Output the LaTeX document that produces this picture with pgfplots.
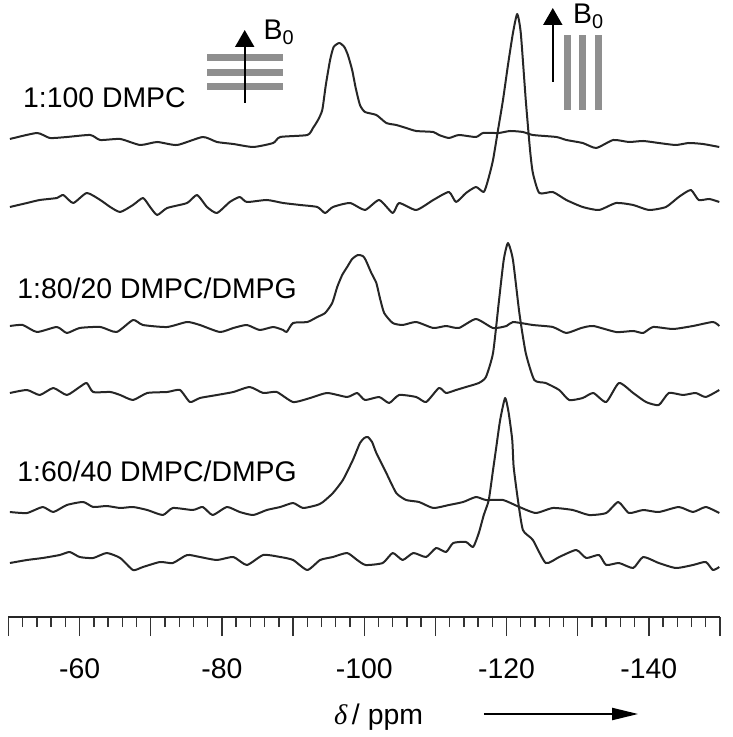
\documentclass[border=0pt]{standalone}
\usepackage{pgfplots}
\pgfplotsset{compat=1.18}
\usetikzlibrary{arrows.meta}
\usepackage{fontspec}
\setmainfont{Liberation Sans}
\newfontfamily\seriffont{Liberation Serif}
\newcommand\lbl{\fontsize{14.2}{17}\selectfont}
\definecolor{barcol}{gray}{0.56}

\begin{document}
\begin{tikzpicture}
\begin{axis}[
  scale only axis, width=355.75pt, height=308.5pt,
  x dir=reverse, xmin=-150, xmax=-50, ymin=120, ymax=737,
  axis y line=none, axis x line*=bottom,
  x axis line style={-, line width=1pt, black!85},
  xtick={-150,-140,...,-50},
  xticklabels={,-140,,-120,,-100,,-80,,-60,},
  minor x tick num=4,
  tick align=outside,
  major tick length=9.5pt, minor tick length=5pt,
  tick style={black!80, line width=0.7pt},
  xticklabel style={font=\lbl, yshift=-8pt},
  clip=false,
  trace/.style={black!85, line width=1pt, line join=round, mark=none, smooth, tension=0.35},
]
% trace 1
\addplot[trace] coordinates {(-50.2,598) (-54.0,604) (-55.8,599) (-58.2,600) (-61.5,602) (-62.9,597) (-65.7,598) (-68.5,592) (-70.9,595) (-73.7,592) (-77.3,600) (-79.3,595) (-81.6,593) (-84.4,590) (-87.2,594) (-88.2,600) (-92.0,602) (-92.8,609) (-93.5,617) (-94.1,627) (-94.6,652) (-95.2,677) (-95.7,690) (-96.5,694) (-97.2,690) (-97.7,682) (-98.3,667) (-98.8,649) (-99.4,632) (-100.1,625) (-101.7,622) (-103.1,614) (-104.5,612) (-105.9,609) (-107.3,606) (-109.7,605) (-110.5,602) (-111.9,599) (-113.3,602) (-115.7,600) (-116.7,604) (-118.9,604) (-120.5,606) (-122.3,605) (-123.7,602) (-127.0,600) (-128.4,597) (-130.7,594) (-132.6,589) (-135.0,597) (-137.2,595) (-139.2,596) (-141.4,594) (-143.8,592) (-145.6,594) (-147.6,593) (-149.9,590)};
% trace 2
\addplot[trace] coordinates {(-50.2,530) (-52.6,534) (-54.4,537) (-56.8,539) (-57.7,542) (-59.1,534) (-61.0,544) (-62.9,537) (-64.3,530) (-65.7,525) (-67.5,532) (-68.9,539) (-69.9,530) (-70.9,522) (-72.3,529) (-75.1,534) (-76.5,542) (-77.9,530) (-79.3,524) (-81.1,535) (-82.5,540) (-83.5,535) (-86.3,537) (-88.6,534) (-91.0,532) (-93.4,530) (-94.5,524) (-95.6,530) (-98.0,534) (-100.1,527) (-102.1,537) (-104.0,524) (-104.9,534) (-107.3,527) (-109.7,537) (-111.9,545) (-112.9,535) (-114.3,544) (-115.7,550) (-116.8,545) (-117.4,557) (-118.1,577) (-118.8,607) (-119.5,637) (-120.2,672) (-120.9,704) (-121.5,723) (-122.0,704) (-122.7,637) (-123.3,587) (-123.7,564) (-124.6,544) (-126.5,545) (-128.4,537) (-130.7,530) (-133.0,527) (-135.4,534) (-137.8,532) (-140.0,527) (-142.4,530) (-144.2,540) (-145.9,547) (-147.0,537) (-148.5,538) (-149.9,535)};
% trace 3
\addplot[trace] coordinates {(-50.2,411) (-52.0,412) (-54.0,405) (-56.8,410) (-58.2,404) (-60.0,409) (-62.9,410) (-65.2,405) (-67.5,417) (-68.9,412) (-72.3,410) (-75.1,415) (-76.9,412) (-79.7,405) (-81.6,409) (-83.5,412) (-85.3,407) (-87.2,410) (-88.6,407) (-89.1,405) (-90.0,414) (-92.0,415) (-93.4,420) (-94.5,424) (-95.5,434) (-96.2,450) (-96.9,462) (-97.6,470) (-98.3,478) (-99.1,482) (-99.8,481) (-100.2,477) (-101.0,464) (-101.7,454) (-102.2,439) (-102.8,424) (-104.0,414) (-105.4,412) (-107.3,415) (-109.7,409) (-111.5,411) (-113.3,409) (-115.7,418) (-118.1,409) (-120.0,411) (-120.9,415) (-123.7,412) (-126.5,410) (-128.4,404) (-130.5,409) (-132.2,411) (-135.4,405) (-137.8,406) (-139.2,404) (-140.6,410) (-143.4,408) (-146.2,411) (-149.0,415) (-149.9,411)};
% trace 4
\addplot[trace] coordinates {(-50.2,344) (-52.6,347) (-54.4,342) (-56.3,349) (-58.2,342) (-60.0,350) (-61.0,354) (-61.9,345) (-64.3,345) (-65.7,342) (-67.5,337) (-69.5,344) (-72.3,345) (-74.1,347) (-75.5,335) (-76.9,339) (-79.3,342) (-81.6,345) (-83.9,350) (-85.8,344) (-87.7,345) (-90.0,335) (-92.4,339) (-94.8,344) (-97.6,340) (-99.0,344) (-100.1,337) (-102.1,340) (-103.5,334) (-104.9,342) (-107.3,340) (-108.7,335) (-110.5,349) (-111.5,344) (-112.9,347) (-114.3,350) (-116.1,354) (-117.1,360) (-118.1,384) (-118.9,434) (-119.6,477) (-120.2,494) (-120.9,477) (-121.8,424) (-122.7,384) (-123.9,357) (-125.5,354) (-127.4,347) (-128.8,337) (-130.7,339) (-132.2,344) (-134.0,335) (-135.8,354) (-137.8,344) (-139.6,335) (-141.4,332) (-142.8,344) (-144.8,342) (-146.6,344) (-148.0,340) (-149.9,347)};
% trace 5
\addplot[trace] coordinates {(-50.2,225) (-52.6,224) (-54.8,230) (-56.3,225) (-58.2,232) (-60.5,235) (-61.9,230) (-63.8,231) (-65.7,229) (-67.5,230) (-69.5,227) (-71.7,222) (-73.1,229) (-75.9,227) (-77.3,230) (-78.7,222) (-80.7,230) (-82.5,225) (-84.4,222) (-86.3,227) (-88.2,230) (-90.0,234) (-91.4,229) (-93.4,232) (-94.2,235) (-95.6,244) (-97.0,257) (-98.4,277) (-99.4,294) (-100.0,299) (-100.5,300) (-101.1,295) (-101.7,284) (-103.1,264) (-104.5,244) (-105.9,237) (-107.7,235) (-109.7,229) (-111.9,232) (-113.9,235) (-115.7,240) (-117.1,237) (-119.5,237) (-121.8,230) (-124.1,224) (-126.5,229) (-129.3,227) (-131.6,222) (-134.0,224) (-135.7,235) (-137.2,224) (-139.2,227) (-141.4,225) (-144.2,230) (-146.2,225) (-148.0,230) (-149.9,224)};
% trace 6
\addplot[trace] coordinates {(-50.2,174) (-52.6,177) (-54.8,179) (-57.2,182) (-58.6,185) (-60.0,180) (-61.9,179) (-63.8,184) (-65.7,179) (-67.5,167) (-68.9,170) (-71.3,175) (-73.1,174) (-75.1,182) (-76.9,180) (-79.3,177) (-81.6,180) (-83.5,172) (-85.8,182) (-88.2,180) (-90.0,177) (-92.0,167) (-93.8,177) (-95.6,180) (-97.6,184) (-99.0,177) (-100.2,172) (-102.6,174) (-104.0,184) (-105.4,177) (-106.9,184) (-108.7,180) (-110.1,189) (-111.5,185) (-112.5,194) (-114.3,195) (-115.3,190) (-116.1,204) (-116.8,222) (-117.5,237) (-118.1,267) (-118.5,287) (-119.1,317) (-119.8,339) (-120.3,324) (-120.8,297) (-121.0,270) (-121.6,237) (-122.3,207) (-123.7,197) (-125.5,174) (-127.4,180) (-129.8,187) (-131.2,179) (-133.0,182) (-134.0,172) (-135.8,174) (-137.8,169) (-139.2,180) (-141.4,174) (-143.8,169) (-146.2,172) (-148.0,175) (-149.0,167) (-149.9,170)};

% labels
\node[anchor=base west, inner sep=0, font=\lbl] at (axis cs:-52.0,629) {1:100 DMPC};
\node[anchor=base west, inner sep=0, font=\lbl] at (axis cs:-51.2,438) {1:80/20 DMPC/DMPG};
\node[anchor=base west, inner sep=0, font=\lbl] at (axis cs:-51.2,255) {1:60/40 DMPC/DMPG};

% icon 1
\draw[barcol, line width=3.5pt] (axis cs:-77.9,679) -- (axis cs:-88.6,679);
\draw[barcol, line width=3.5pt] (axis cs:-77.9,664) -- (axis cs:-88.6,664);
\draw[barcol, line width=3.5pt] (axis cs:-77.9,650) -- (axis cs:-88.6,650);
\draw[-{Triangle[length=8.5pt,width=9.5pt]}, line width=1pt] (axis cs:-83.2,634) -- (axis cs:-83.2,707);
\node[anchor=base west, inner sep=0, font=\lbl] at (axis cs:-85.8,697) {B\textsubscript{0}};

% icon 2
\draw[barcol, line width=3.5pt] (axis cs:-128.6,627) -- (axis cs:-128.6,702);
\draw[barcol, line width=3.5pt] (axis cs:-130.7,627) -- (axis cs:-130.7,702);
\draw[barcol, line width=3.5pt] (axis cs:-132.9,627) -- (axis cs:-132.9,702);
\draw[-{Triangle[length=8.5pt,width=9.5pt]}, line width=1pt] (axis cs:-126.5,655) -- (axis cs:-126.5,729);
\node[anchor=base west, inner sep=0, font=\lbl] at (axis cs:-129.3,713) {B\textsubscript{0}};

% x label and arrow
\node[anchor=base west, inner sep=0, font=\lbl] at (axis cs:-95.7,13) {{\seriffont\itshape δ}\,/ ppm};
\draw[-{Triangle[length=13pt,width=6pt]}, line width=1pt] (axis cs:-116.8,23) -- (axis cs:-138.5,23);

\coordinate (bl) at (axis cs:-48.805,0);
\coordinate (tr) at (axis cs:-151.685,737);
\end{axis}
\pgfresetboundingbox
\path (bl) rectangle (tr);
\end{tikzpicture}
\end{document}
